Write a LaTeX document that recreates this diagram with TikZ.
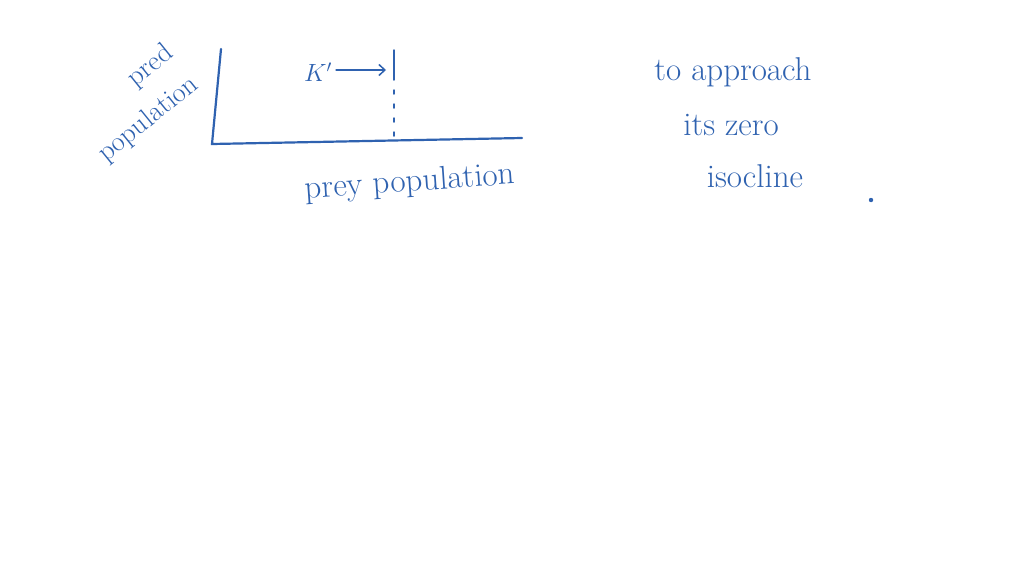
\documentclass[tikz,border=0pt]{standalone}
\usepackage{fontspec}
\setmainfont{Latin Modern Roman}
\usetikzlibrary{arrows.meta}
\definecolor{ink}{HTML}{2F62B0}
\tikzset{
  pen/.style={draw=ink, line width=2.2pt, line cap=round},
  thinpen/.style={draw=ink, line width=1.5pt, line cap=round},
  hand/.style={text=ink, inner sep=0pt},
  big/.style={hand, font=\fontsize{33}{38}\selectfont},
}
\begin{document}
\begin{tikzpicture}[x=1pt,y=-1pt]
\useasboundingbox[fill=white] (0,0) rectangle (1024,576);
% axes
\coordinate (ytop) at (221,49);
\coordinate (origin) at (212,144);
\coordinate (xend) at (522,138);
\draw[pen] (ytop) -- (origin) -- (xend);
% dashed line at K
\coordinate (ktop) at (394,50);
\coordinate (kmid) at (394,76);
\coordinate (kbot) at (394,136);
\draw[thinpen] (ktop) -- (kmid);
\draw[thinpen, dash pattern=on 4pt off 10pt] (kmid) -- (kbot);
% K label and arrow
\node[hand, font=\fontsize{26}{30}\selectfont] (K) at (318,72) {$K'$};
\coordinate (arrowend) at (386,70);
\draw[thinpen, -{Straight Barb[length=6pt,width=11pt]}, shorten <=4pt] (K.east |- arrowend) -- (arrowend);
% axis labels
\node[hand, font=\fontsize{28}{40}\selectfont, rotate=39, align=right] (predpop) at (136,104) {pred\\population};
\node[big, rotate=4] (prey) at (410,183) {prey population};
% right text
\node[big] (t1) at (733,72) {to approach};
\node[big] (t2) at (731,125) {its zero};
\node[big] (t3) at (755,176) {isocline};
\fill[ink] (871,200) circle (2.2pt) coordinate (dot);
\end{tikzpicture}
\end{document}
